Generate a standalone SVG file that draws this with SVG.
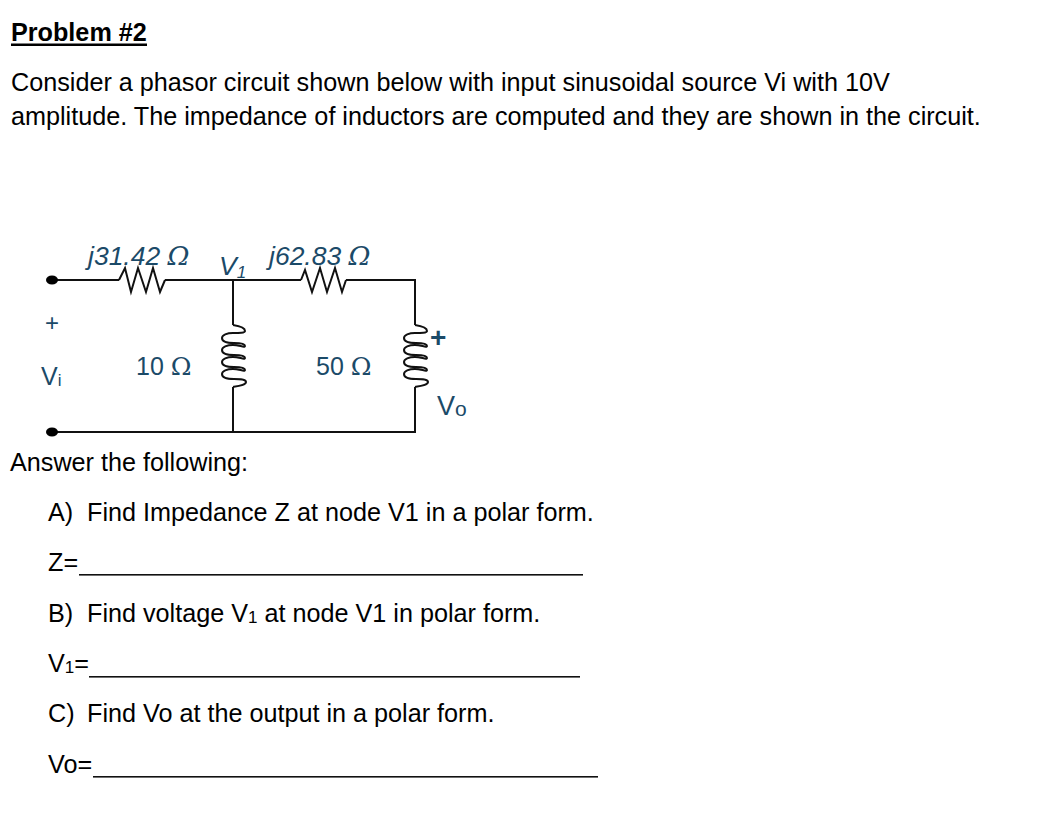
<svg xmlns="http://www.w3.org/2000/svg" width="1048" height="836" viewBox="0 0 1048 836">
<style>
text{font-family:"Liberation Sans",Arial,sans-serif;fill:#000}
.b{font-size:25.200px}
.c{fill:#1b4a68;font-size:25px}
.j{font-size:26.500px;font-style:italic}
.o{font-family:"DejaVu Serif","Liberation Serif",serif}
.w{fill:none;stroke:#111;stroke-width:2}
.t{fill:#000}
</style>
<defs>
<path id="coil" class="w" d="M0 0C7 1 12 3 12 6C12 8 6 8 0 8C-6 8 -11 10 -11 13C-11 17 -4 18 1 18C6 18 12 18.500 12 21C12 23 6 20 0 20C-6 20 -11 22 -11 25C-11 29 -4 30 1 30C6 30 12 30.500 12 33C12 35 6 32 0 32C-6 32 -11 34 -11 37C-11 41 -4 42 1 42C6 42 12 42.500 12 45C12 47 6 44 0 44C-6 44 -11 46 -11 49C-11 53 -4 54 1 54C7 54 13 54 13 57C13 60 6 61 0 62"/>
</defs>
<rect width="1048" height="836" fill="#fff"/>
<g id="text-top">
<text x="11" y="41" class="b" font-weight="700">Problem #2</text>
<rect x="11" y="43.500" width="136" height="2.500" fill="#000"/>
<text x="11" y="91" class="b">Consider a phasor circuit shown below with input sinusoidal source Vi with 10V</text>
<text x="11" y="125" class="b">amplitude. The impedance of inductors are computed and they are shown in the circuit.</text>
</g>
<g id="connectors">
<path class="w" d="M52 280H119M165 280H301M346 280H415V325M415 387V432H52M233 280V325M233 387V432"/>
</g>
<g id="terminal-top"><ellipse class="t" cx="52" cy="280" rx="6" ry="4.500"/></g>
<g id="terminal-bottom"><ellipse class="t" cx="52" cy="432" rx="6" ry="4.500"/></g>
<g id="R1"><path class="w" d="M119 280L125 268L131 292L138 268L146 292L153 268L160 292L165 280"/></g>
<g id="R2"><path class="w" d="M301 280L305 270L312 292L320 268L327 292L335 268L342 292L346 280"/></g>
<g id="L1"><use href="#coil" x="233" y="325"/></g>
<g id="L2"><use href="#coil" x="415" y="325"/></g>
<g id="labels">
<text x="88" y="265" class="c j">j31.42 <tspan class="o">Ω</tspan></text>
<text x="219" y="275" class="c j">V<tspan style="font-size:17px" dy="3">1</tspan></text>
<text x="269" y="265" class="c j">j62.83 <tspan class="o">Ω</tspan></text>
<text x="45" y="331" class="c" style="font-size:24px">+</text>
<text x="41" y="385" class="c">V<tspan style="font-size:17px" dy="1">i</tspan></text>
<text x="136" y="375" class="c">10 <tspan class="o">Ω</tspan></text>
<text x="316" y="375" class="c">50 <tspan class="o">Ω</tspan></text>
<text x="430" y="347" class="c" style="font-size:28px" font-weight="700">+</text>
<text x="437" y="415" class="c" style="font-size:27px">V<tspan style="font-size:21px" dy="1">o</tspan></text>
</g>
<g id="text-bottom">
<text x="10" y="471" class="b">Answer the following:</text>
<text x="48" y="521" class="b">A)</text>
<text x="87" y="521" class="b">Find Impedance Z at node V1 in a polar form.</text>
<text x="48" y="571" class="b">Z=</text>
<rect x="79" y="574" width="504" height="1.600" fill="#111"/>
<text x="48" y="622" class="b">B)</text>
<text x="87" y="622" class="b">Find voltage V<tspan style="font-size:17px" dy="1">1</tspan><tspan dy="-1"> at node V1 in polar form.</tspan></text>
<text x="48" y="672" class="b">V<tspan style="font-size:17px" dy="1">1</tspan><tspan dy="-1">=</tspan></text>
<rect x="89" y="676" width="491" height="1.600" fill="#111"/>
<text x="48" y="722" class="b">C)</text>
<text x="87" y="722" class="b">Find Vo at the output in a polar form.</text>
<text x="48" y="773" class="b">Vo=</text>
<rect x="93" y="776" width="505" height="1.600" fill="#111"/>
</g>
</svg>
